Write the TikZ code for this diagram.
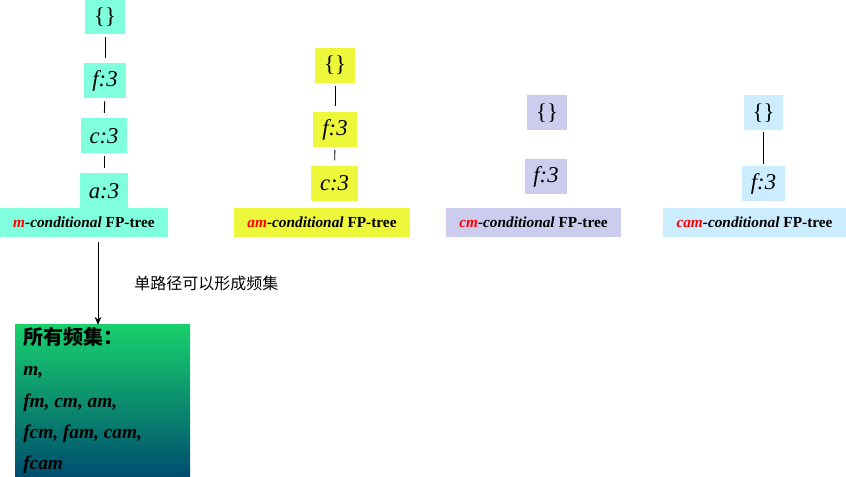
\documentclass[tikz,border=0pt]{standalone}
\usepackage{fontspec}
\setmainfont{Liberation Serif}
\newfontfamily\cjk{Noto Sans CJK SC}
\usetikzlibrary{arrows.meta}
\begin{document}
\begin{tikzpicture}[x=0.75pt,y=-0.75pt,
  bx/.style={minimum height=26.25pt,inner sep=0pt,font=\itshape\fontsize{17}{18}\selectfont},
  lbl/.style={minimum height=21.75pt,inner sep=0pt,font=\bfseries\fontsize{11.5}{13}\selectfont},
  ln/.style={draw=black,line width=0.7pt,shorten <=2pt,shorten >=4pt}]
\useasboundingbox (0,0) rectangle (846,477);
\definecolor{aq}{RGB}{127,255,221}
\definecolor{ye}{RGB}{238,248,58}
\definecolor{lv}{RGB}{204,204,238}
\definecolor{lb}{RGB}{204,236,255}
\definecolor{gt}{RGB}{24,208,108}
\definecolor{gb}{RGB}{0,78,112}
% tree 1
\node[bx,fill=aq,minimum width=30pt] (a0) at (105,17) {\upshape\{\}};
\node[bx,fill=aq,minimum width=32pt] (a1) at (105,81) {f:3};
\node[bx,fill=aq,minimum width=34.5pt] (a2) at (104,136) {c:3};
\node[bx,fill=aq,minimum width=36pt] (a3) at (104,191) {a:3};
\node[lbl,fill=aq,minimum width=126pt] (al) at (84,222.5) {\textcolor{red}{\textit{m}}\textit{-conditional} FP-tree};
\draw[ln] (a0) -- (a1); \draw[ln] (a1) -- (a2); \draw[ln] (a2) -- (a3);
% tree 2
\node[bx,fill=ye,minimum width=30pt] (b0) at (335,65.5) {\upshape\{\}};
\node[bx,fill=ye,minimum width=33pt] (b1) at (335,129.5) {f:3};
\node[bx,fill=ye,minimum width=35pt] (b2) at (334.5,183.5) {c:3};
\node[lbl,fill=ye,minimum width=132pt] (bl) at (322,222.5) {\textcolor{red}{\textit{am}}\textit{-conditional} FP-tree};
\draw[ln] (b0) -- (b1); \draw[ln] (b1) -- (b2);
% tree 3
\node[bx,fill=lv,minimum width=30pt] (c0) at (547,113) {\upshape\{\}};
\node[bx,fill=lv,minimum width=31.5pt] (c1) at (546,177) {f:3};
\node[lbl,fill=lv,minimum width=131pt] (cl) at (533.5,222.5) {\textcolor{red}{\textit{cm}}\textit{-conditional} FP-tree};
% tree 4
\node[bx,fill=lb,minimum width=29pt] (d0) at (763.5,113) {\upshape\{\}};
\node[bx,fill=lb,minimum width=32pt] (d1) at (763.5,183.5) {f:3};
\node[lbl,fill=lb,minimum width=137pt] (dl) at (754.5,222.5) {\textcolor{red}{\textit{cam}}\textit{-conditional} FP-tree};
\draw[ln,shorten <=1pt,shorten >=1pt] (d0) -- (d1);
% result box
\shade[top color=gt,bottom color=gb] (15,325) rectangle (190,476);
\node[inner sep=0pt,minimum width=131pt,minimum height=113pt] (r) at (102.5,400.5) {};
\node[anchor=north west,inner sep=0pt,align=left,font=\bfseries\itshape\fontsize{14.5}{23.5}\selectfont] (rt) at (23,327)
 {{\cjk\upshape\fontsize{15}{18}\selectfont 所有频集：}\\m,\\fm, cm, am,\\fcm, fam, cam,\\fcam};
\coordinate (s) at (98,242);
\draw[draw=black,line width=0.7pt,-{Stealth[length=6pt,width=5pt]}] (s) -- (r.north -| s);
\node[anchor=west,inner sep=0pt,font=\cjk\fontsize{12}{14}\selectfont] (t) at (134,283) {单路径可以形成频集};
\end{tikzpicture}
\end{document}
